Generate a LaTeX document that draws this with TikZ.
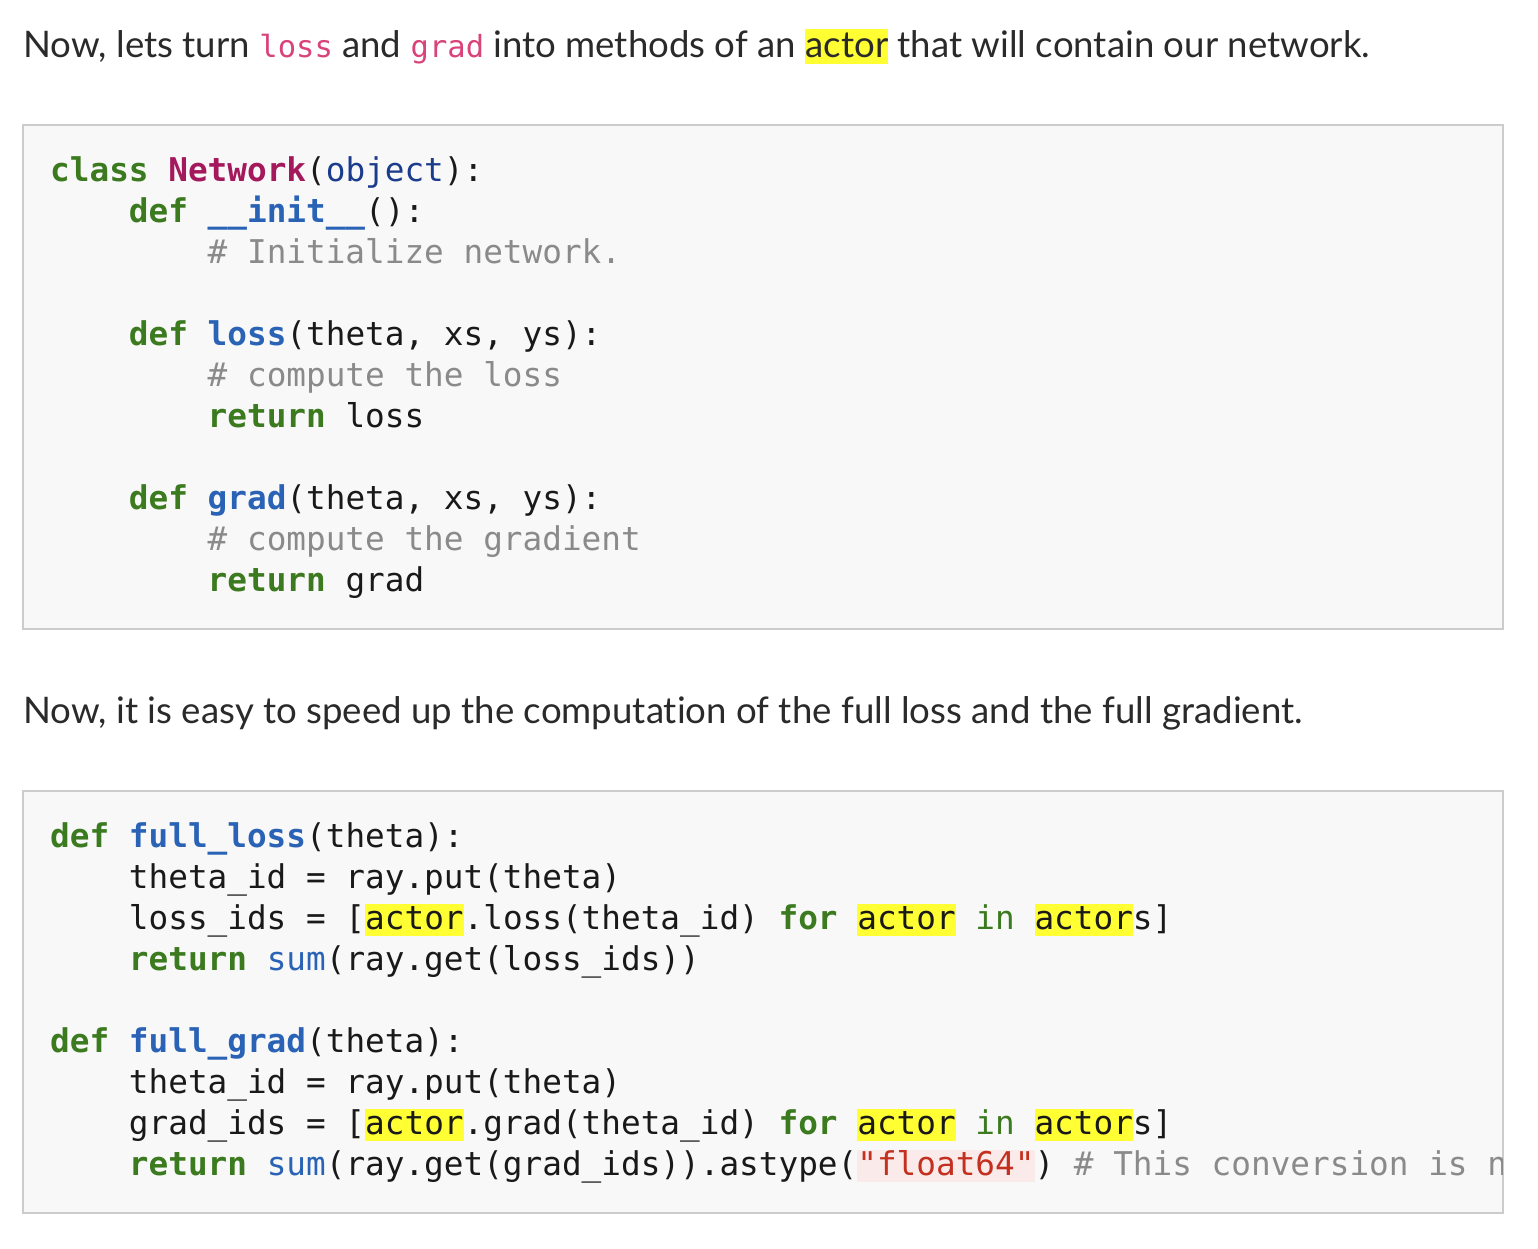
\documentclass[tikz,border=0pt]{standalone}
\usepackage{fontspec}
\setmainfont[Ligatures={NoCommon}]{Lato}
\setmonofont{DejaVu Sans Mono}
\definecolor{kw}{HTML}{3B7A1E}
\definecolor{cls}{HTML}{A3195B}
\definecolor{obj}{HTML}{1B3B8C}
\definecolor{fn}{HTML}{2A63B5}
\definecolor{cm}{HTML}{8A8A8A}
\definecolor{st}{HTML}{C4301F}
\definecolor{stbg}{HTML}{FBEAEA}
\definecolor{hly}{HTML}{FFFF33}
\definecolor{pk}{HTML}{D8437A}
\definecolor{txt}{HTML}{2A2A2A}
\definecolor{boxbg}{HTML}{F8F8F8}
\definecolor{boxln}{HTML}{CCCCCC}
\newcommand\hlt[1]{{\setlength\fboxsep{0pt}\colorbox{hly}{\vphantom{Ag[}#1}}}
\newcommand\strbg[1]{{\setlength\fboxsep{0pt}\colorbox{stbg}{\vphantom{Ag[}#1}}}
\newcommand\K[1]{\textcolor{kw}{\bfseries #1}}
\newcommand\F[1]{\textcolor{fn}{\bfseries #1}}
\newcommand\C[1]{\textcolor{cm}{#1}}
\newcommand\ic[1]{\textcolor{pk}{\ttfamily\fontsize{30.5}{36}\selectfont #1}}
\tikzset{
 para/.style={anchor=base west,inner sep=0,font=\fontsize{36.6}{42}\selectfont,text=txt},
 code/.style={anchor=base west,inner sep=0,font=\ttfamily\fontsize{32.7}{40}\selectfont,text=black!90},
 cbox/.style={draw=boxln,line width=1.5pt,fill=boxbg}
}
\begin{document}
\begin{tikzpicture}[x=1pt,y=-1pt]
\useasboundingbox (0,0) rectangle (1538,1248);
\node[para] (p1) at (23,57) {Now, lets turn \ic{loss} and \ic{grad} into methods of an \hlt{actor} that will contain our network.};
\path[cbox] (23,125) rectangle (1503,629);
\node[code] (a1) at (50,181) {\K{class} \textcolor{cls}{\bfseries Network}(\textcolor{obj}{object}):};
\node[code] (a2) at (50,222) {\phantom{xxxx}\K{def} \F{\_\_init\_\_}():};
\node[code] (a3) at (50,263) {\phantom{xxxxxxxx}\C{\# Initialize network.}};
\node[code] (a5) at (50,345) {\phantom{xxxx}\K{def} \F{loss}(theta, xs, ys):};
\node[code] (a6) at (50,386) {\phantom{xxxxxxxx}\C{\# compute the loss}};
\node[code] (a7) at (50,427) {\phantom{xxxxxxxx}\K{return} loss};
\node[code] (a9) at (50,509) {\phantom{xxxx}\K{def} \F{grad}(theta, xs, ys):};
\node[code] (a10) at (50,550) {\phantom{xxxxxxxx}\C{\# compute the gradient}};
\node[code] (a11) at (50,591) {\phantom{xxxxxxxx}\K{return} grad};
\node[para] (p2) at (23,723) {Now, it is easy to speed up the computation of the full loss and the full gradient.};
\path[cbox] (23,791) rectangle (1503,1213);
\begin{scope}
\clip (24,792) rectangle (1502,1212);
\node[code] (b1) at (50,847) {\K{def} \F{full\_loss}(theta):};
\node[code] (b2) at (50,888) {\phantom{xxxx}theta\_id = ray.put(theta)};
\node[code] (b3) at (50,929) {\phantom{xxxx}loss\_ids = [\hlt{actor}.loss(theta\_id) \K{for} \hlt{actor} \textcolor{kw}{in} \hlt{actor}s]};
\node[code] (b4) at (50,970) {\phantom{xxxx}\K{return} \textcolor{fn}{sum}(ray.get(loss\_ids))};
\node[code] (b6) at (50,1052) {\K{def} \F{full\_grad}(theta):};
\node[code] (b7) at (50,1093) {\phantom{xxxx}theta\_id = ray.put(theta)};
\node[code] (b8) at (50,1134) {\phantom{xxxx}grad\_ids = [\hlt{actor}.grad(theta\_id) \K{for} \hlt{actor} \textcolor{kw}{in} \hlt{actor}s]};
\node[code] (b9) at (50,1175) {\phantom{xxxx}\K{return} \textcolor{fn}{sum}(ray.get(grad\_ids)).astype(\strbg{\textcolor{st}{"float64"}}) \C{\# This conversion is necessary}};
\end{scope}
\end{tikzpicture}
\end{document}
